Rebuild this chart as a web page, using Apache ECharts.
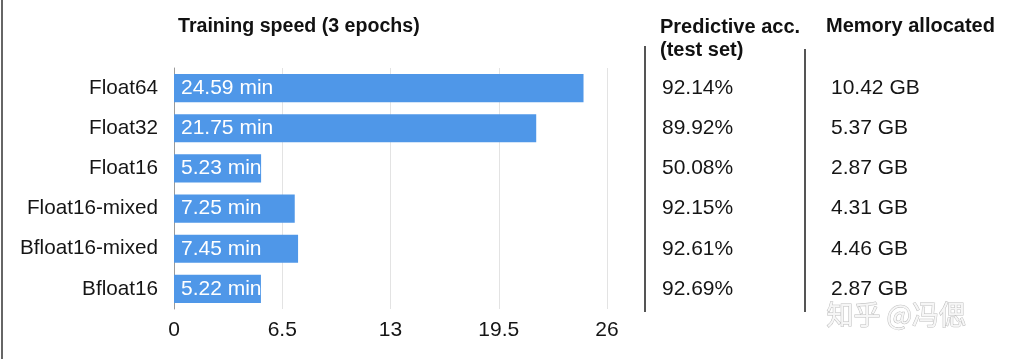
<!DOCTYPE html>
<html>
<head>
<meta charset="utf-8">
<script src="https://cdn.jsdelivr.net/npm/echarts@6/dist/echarts.min.js"></script>
<style>
html,body{margin:0;padding:0;background:#fff;}
#chart{width:1012px;height:359px;}
</style>
</head>
<body>
<div id="chart"></div>
<script>
const categories = ['Float64', 'Float32', 'Float16', 'Float16-mixed', 'Bfloat16-mixed', 'Bfloat16'];
const trainingMinutes = [24.59, 21.75, 5.23, 7.25, 7.45, 5.22];
const accuracy = ['92.14%', '89.92%', '50.08%', '92.15%', '92.61%', '92.69%'];
const memory = ['10.42 GB', '5.37 GB', '2.87 GB', '4.31 GB', '4.46 GB', '2.87 GB'];
const xTicks = [0, 6.5, 13, 19.5, 26];

const FONT = '"Liberation Sans", Arial, Helvetica, sans-serif';
const chart = echarts.init(document.getElementById('chart'), null, {renderer: 'canvas'});

const option = {
  backgroundColor: '#ffffff',
  animation: false,
  textStyle: {fontFamily: FONT},
  grid: {left: 174, right: 405, top: 68, bottom: 50, containLabel: false},
  xAxis: {
    type: 'value',
    min: xTicks[0],
    max: xTicks[xTicks.length - 1],
    interval: xTicks[1] - xTicks[0],
    axisLine: {show: false},
    axisTick: {show: false},
    splitLine: {show: true, lineStyle: {color: '#e3e3e3', width: 1}},
    axisLabel: {
      show: true, margin: 11, color: '#151515', fontSize: 21, fontFamily: FONT,
      formatter: v => String(v)
    }
  },
  yAxis: [
    {
      type: 'category',
      data: categories,
      inverse: true,
      axisLine: {show: true, lineStyle: {color: '#9a9a9a', width: 1}},
      axisTick: {show: false},
      axisLabel: {margin: 16, color: '#151515', fontSize: 20.7, fontFamily: FONT}
    },
    {
      type: 'category',
      data: accuracy,
      inverse: true,
      position: 'right',
      axisLine: {show: false},
      axisTick: {show: false},
      axisLabel: {margin: 55, align: 'left', color: '#151515', fontSize: 21, fontFamily: FONT}
    },
    {
      type: 'category',
      data: memory,
      inverse: true,
      position: 'right',
      offset: 0,
      axisLine: {show: false},
      axisTick: {show: false},
      axisLabel: {margin: 224, align: 'left', color: '#151515', fontSize: 21, fontFamily: FONT}
    }
  ],
  series: [{
    type: 'bar',
    yAxisIndex: 0,
    data: trainingMinutes,
    barCategoryGap: '30%',
    itemStyle: {color: '#4f97e8'},
    label: {
      show: true,
      position: 'insideLeft',
      distance: 7,
      color: '#ffffff',
      fontSize: 21,
      fontFamily: FONT,
      formatter: p => p.value.toFixed(2) + ' min'
    }
  }],
  graphic: [
    {type: 'text', left: 178, top: 17, style: {text: 'Training speed (3 epochs)', fill: '#111', font: 'bold 19.6px ' + FONT}},
    {type: 'text', left: 660, top: 16, style: {text: 'Predictive acc.\n(test set)', fill: '#111', font: 'bold 20px ' + FONT, lineHeight: 23}},
    {type: 'text', left: 826, top: 16, style: {text: 'Memory allocated', fill: '#111', font: 'bold 20px ' + FONT}},
    {type: 'line', shape: {x1: 645, y1: 46, x2: 645, y2: 312}, style: {stroke: '#555', lineWidth: 2}},
    {type: 'line', shape: {x1: 805, y1: 49, x2: 805, y2: 312}, style: {stroke: '#555', lineWidth: 2}},
    {type: 'line', shape: {x1: 2, y1: 0, x2: 2, y2: 359}, style: {stroke: '#666', lineWidth: 2}},
    {type: 'text', left: 826, top: 301, style: {text: '知乎 @冯偲', font: '27px "Noto Sans CJK SC", sans-serif', fill: '#f6f6f6', stroke: '#bdbdbd', lineWidth: 1}}
  ]
};
chart.setOption(option);
</script>
</body>
</html>
